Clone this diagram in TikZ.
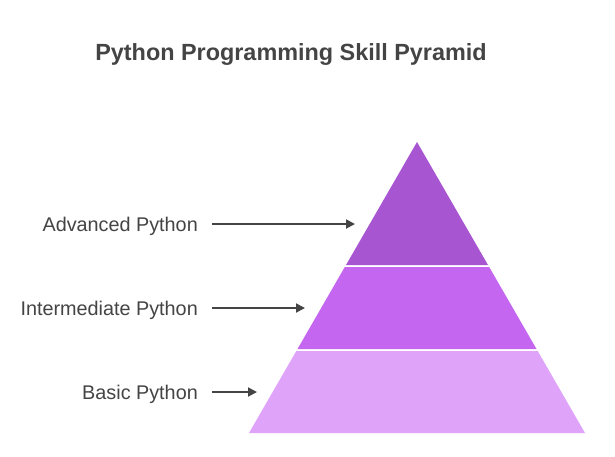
\documentclass[tikz,border=0pt]{standalone}
\usepackage{fontspec}
\setmainfont{Liberation Sans}
\usetikzlibrary{arrows.meta}
\definecolor{txt}{HTML}{444444}
\definecolor{tierA}{HTML}{A855D2}
\definecolor{tierB}{HTML}{C466F0}
\definecolor{tierC}{HTML}{DFA4FA}
\tikzset{
  lbl/.style={anchor=east, inner sep=0pt, text=txt, font=\fontsize{19.8}{22}\selectfont},
  arr/.style={draw=txt, line width=1.8pt, -{Triangle[length=9pt,width=9pt]}},
}
\begin{document}
\begin{tikzpicture}[x=1pt,y=-1pt]
\useasboundingbox (0,0) rectangle (615,456);
\fill[white] (0,0) rectangle (615,456);
% title
\node[inner sep=0pt, text=txt, font=\fontsize{23.4}{26}\selectfont\bfseries] (title) at (291,54) {Python Programming Skill Pyramid};
% pyramid tiers
\fill[tierA] (417,142) -- (488,265) -- (346,265) -- cycle;
\fill[tierB] (344.8,267) -- (489.2,267) -- (536.5,349) -- (297.5,349) -- cycle;
\fill[tierC] (296.3,351) -- (537.7,351) -- (585,433) -- (249,433) -- cycle;
% arrow targets
\coordinate (tA) at (355,224);
\coordinate (tB) at (305,308);
\coordinate (tC) at (257,392);
% labels
\node[lbl] (lA) at (198,226) {Advanced Python};
\node[lbl] (lB) at (198,310) {Intermediate Python};
\node[lbl] (lC) at (198,394) {Basic Python};
\draw[arr] (lA.east |- tA) ++(14,0) coordinate (sA) (sA) -- (tA);
\draw[arr] (lB.east |- tB) ++(14,0) coordinate (sB) (sB) -- (tB);
\draw[arr] (lC.east |- tC) ++(14,0) coordinate (sC) (sC) -- (tC);
\end{tikzpicture}
\end{document}
